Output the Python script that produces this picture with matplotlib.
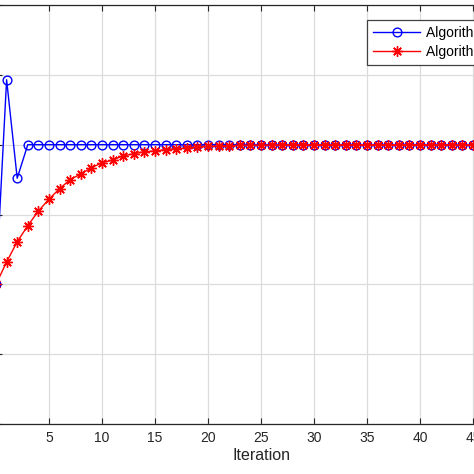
import numpy as np
import matplotlib
matplotlib.use("Agg")
import matplotlib.pyplot as plt

plt.rcParams['font.family'] = ['Liberation Sans', 'DejaVu Sans']

# %% data (y scale: grid lines taken as 0..6)
iterations = np.arange(0, 51)
algo1_head = [2.0, 4.93, 3.52]
algo2_head = [2.0, 2.32, 2.61, 2.84, 3.05, 3.22, 3.37, 3.50, 3.58, 3.67,
              3.74, 3.78, 3.84, 3.87, 3.90, 3.91, 3.93, 3.94, 3.955, 3.97,
              3.975, 3.98, 3.985, 3.99, 3.99, 3.995, 3.995]
steady = 4.0
algo1 = algo1_head + [steady] * (len(iterations) - len(algo1_head))
algo2 = algo2_head + [steady] * (len(iterations) - len(algo2_head))
labels = ["Algorithm 1", "Algorithm 2"]
xticks = list(range(0, 51, 5))
xtick_labels = [''] + [str(t) for t in xticks[1:]]  # 0 sits off the crop

# %%
W = H = 474
fig = plt.figure(figsize=(W / 100, H / 100), dpi=100)
ax = fig.add_axes([-4 / W, 50 / H, 530 / W, 419 / H])

ax.plot(iterations, algo1, color='b', lw=1.0, marker='o', ms=6.3,
        mfc='none', mew=1.0, label=labels[0])
ax.plot(iterations, algo2, color='r', lw=1.0, marker=(8, 2, 0), ms=7.5,
        mew=1.0, label=labels[1])

ax.set_xlim(0, 50)
ax.set_ylim(0, 6)
ax.set_xticks(xticks, xtick_labels)
ax.set_yticks(range(0, 7))
ax.grid(True, color='#dcdcdc', lw=0.9)
ax.set_axisbelow(True)
for s in ax.spines.values():
    s.set_color('#262626')
    s.set_linewidth(0.9)
ax.tick_params(direction='in', top=True, right=True, length=4,
               labelsize=10, color='#262626', labelcolor='#262626', pad=5)
ax.set_xlabel("Iteration", fontsize=11.5, color='#262626', labelpad=2)

leg = ax.legend(loc='upper left', bbox_to_anchor=(367 / W, 1 - 20 / H),
                bbox_transform=fig.transFigure, borderaxespad=0,
                fancybox=False, framealpha=1, edgecolor='#404040',
                fontsize=10, handlelength=3.4, handletextpad=0.4,
                labelspacing=0.35, borderpad=0.45)
leg.get_frame().set_linewidth(0.9)

fig.savefig("out.png", dpi=100)
